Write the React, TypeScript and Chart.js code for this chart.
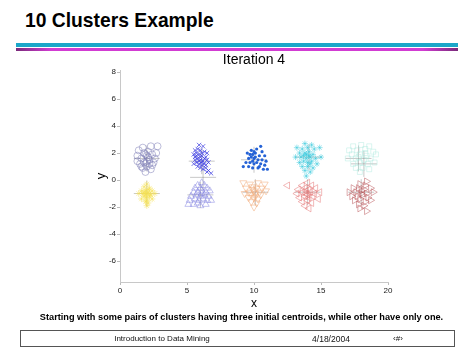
import React, { useEffect, useRef } from "react";
import { Chart, registerables } from "chart.js";

Chart.register(...registerables);

const FONT = '"Liberation Sans", Arial, sans-serif';

const slideTitle = "10 Clusters Example";
const chartTitle = "Iteration 4";
const caption = "Starting with some pairs of clusters having three initial centroids, while other have only one.";
const footerLeft = "Introduction to Data Mining";
const footerDate = "4/18/2004";
const footerPage = "\u2039#\u203A";

const xTicks = [0, 5, 10, 15, 20];
const yTicks = [-6, -4, -2, 0, 2, 4, 6, 8];

const cluster1 = [[1.4,2.2],[1.7,2.4],[2.3,2.5],[2.8,2.5],[1.3,1.8],[1.6,1.6],[1.9,1.9],[2.1,1.7],[2.4,1.9],[2.6,1.6],[1.5,1.2],[1.8,1.3],[2.0,1.4],[2.2,1.2],[2.5,1.3],[1.7,0.9],[2.0,1.0],[2.3,0.8],[1.9,0.6],[2.1,2.1],[1.8,2.0],[2.2,1.5],[1.6,1.0],[2.4,1.1],[2.0,1.8],[1.3,1.4],[2.7,2.0],[1.9,1.2]];
const cluster2 = [[5.9,2.6],[6.2,2.5],[5.6,2.2],[5.8,2.3],[6.0,2.2],[6.3,2.1],[6.5,2.0],[5.5,1.9],[5.7,1.8],[5.9,1.9],[6.1,1.8],[6.4,1.7],[5.6,1.5],[5.8,1.6],[6.0,1.5],[6.2,1.4],[6.5,1.5],[5.5,1.2],[5.7,1.3],[5.9,1.2],[6.1,1.1],[6.3,1.2],[6.6,1.3],[5.8,1.0],[6.0,0.9],[6.2,0.8],[6.4,0.9],[6.6,0.7],[6.8,0.5],[6.5,0.6],[6.1,2.0],[5.7,2.0],[6.0,1.7],[6.3,1.6],[5.9,1.4],[6.1,1.3],[5.6,1.7],[6.4,1.1]];
const cluster3 = [[10.5,2.5],[9.8,2.2],[10.2,2.3],[10.6,2.1],[9.5,2.0],[9.9,1.9],[10.1,2.0],[10.4,1.8],[10.8,1.8],[9.6,1.6],[9.8,1.7],[10.0,1.6],[10.3,1.5],[10.6,1.5],[10.9,1.4],[9.4,1.3],[9.7,1.3],[10.0,1.2],[10.2,1.3],[10.5,1.2],[10.8,1.1],[9.2,1.0],[9.6,1.0],[9.9,0.9],[10.3,0.9],[10.7,0.8],[11.0,0.8],[10.1,1.7],[9.9,1.4],[10.4,1.0],[10.0,2.1],[9.7,1.9]];
const cluster4 = [[13.8,2.7],[14.3,2.6],[13.2,2.4],[13.6,2.3],[14.0,2.4],[14.5,2.3],[14.9,2.4],[13.4,2.0],[13.8,2.0],[14.1,2.1],[14.4,1.9],[13.1,1.7],[13.5,1.7],[13.9,1.6],[14.2,1.7],[14.6,1.6],[15.0,1.7],[13.4,1.3],[13.7,1.4],[14.0,1.3],[14.3,1.4],[14.7,1.2],[13.6,1.0],[14.0,1.0],[14.4,0.9],[13.8,0.7],[14.2,0.6],[13.9,0.3],[14.1,1.8],[13.9,1.9],[14.2,1.2],[13.7,1.8]];
const cluster5 = [[17.4,2.5],[18.0,2.6],[18.6,2.5],[17.1,2.2],[17.7,2.2],[18.3,2.3],[18.9,2.1],[17.3,1.9],[17.9,1.9],[18.4,1.8],[19.1,1.9],[17.0,1.6],[17.6,1.6],[18.2,1.5],[18.7,1.6],[17.4,1.2],[17.9,1.3],[18.5,1.2],[19.0,1.3],[17.6,0.9],[18.1,0.9],[18.6,0.8],[17.9,0.6],[18.3,2.0],[17.8,1.7]];
const cluster6 = [[2.0,-0.3],[1.8,-0.5],[2.2,-0.6],[1.6,-0.8],[1.9,-0.8],[2.1,-0.9],[2.4,-0.8],[1.4,-1.0],[1.7,-1.0],[2.0,-1.0],[2.3,-1.1],[2.6,-1.0],[1.8,-1.2],[2.0,-1.3],[2.2,-1.2],[1.6,-1.4],[2.4,-1.4],[1.9,-1.6],[2.1,-1.7],[2.0,-1.9],[1.9,-1.1],[2.1,-0.7],[2.0,-1.5],[1.8,-0.9],[2.2,-1.0]];
const cluster7 = [[6.1,-0.2],[5.8,-0.4],[6.3,-0.4],[5.6,-0.6],[6.0,-0.6],[6.5,-0.6],[5.5,-0.9],[5.8,-0.9],[6.1,-0.8],[6.4,-0.9],[6.7,-0.8],[5.3,-1.2],[5.7,-1.1],[6.0,-1.2],[6.3,-1.1],[6.6,-1.2],[5.2,-1.5],[5.6,-1.4],[5.9,-1.5],[6.2,-1.4],[6.5,-1.5],[6.8,-1.5],[5.1,-1.8],[5.5,-1.8],[6.0,-1.9],[6.4,-1.8],[5.8,-1.7],[6.1,-1.0]];
const cluster8 = [[9.2,-0.2],[9.7,-0.3],[10.3,-0.2],[10.8,-0.3],[9.4,-0.6],[9.9,-0.5],[10.2,-0.6],[10.6,-0.6],[9.6,-0.9],[10.0,-0.8],[10.4,-0.9],[10.9,-0.8],[9.3,-1.0],[9.8,-1.1],[10.1,-1.0],[10.5,-1.1],[9.6,-1.3],[10.0,-1.3],[10.3,-1.4],[9.8,-1.6],[10.2,-1.7],[10.0,-2.0],[10.1,-1.2],[9.9,-0.7]];
const cluster9 = [[14.0,-0.2],[13.6,-0.4],[14.3,-0.4],[13.3,-0.7],[13.8,-0.6],[14.1,-0.7],[14.6,-0.6],[13.2,-1.0],[13.6,-0.9],[13.9,-1.0],[14.2,-0.9],[14.5,-1.0],[14.9,-0.9],[13.4,-1.3],[13.8,-1.2],[14.1,-1.3],[14.4,-1.2],[14.8,-1.4],[13.6,-1.6],[14.0,-1.5],[14.3,-1.7],[13.8,-1.9],[14.1,-2.1],[14.0,-1.1],[13.9,-0.8],[12.5,-0.4]];
const cluster10 = [[18.4,-0.1],[17.9,-0.3],[18.3,-0.4],[17.4,-0.6],[17.8,-0.6],[18.2,-0.7],[18.7,-0.6],[17.1,-0.9],[17.6,-0.9],[18.0,-0.8],[18.4,-1.0],[18.9,-0.9],[17.3,-1.2],[17.7,-1.2],[18.1,-1.1],[18.5,-1.3],[17.5,-1.5],[17.9,-1.4],[18.3,-1.6],[18.7,-1.5],[17.8,-1.8],[18.2,-1.9],[18.4,-2.3],[18.0,-1.0],[17.9,-2.1]];
const centroids = [[2.0,1.6],[6.1,1.4],[6.2,0.2],[10.0,1.5],[14.1,1.7],[17.8,1.6],[18.2,1.2],[2.0,-1.0],[6.0,-1.1],[10.1,-0.9],[14.0,-0.9],[18.0,-0.9]];

const toPts = (arr: number[][]) => arr.map(([x, y]) => ({ x, y }));

export default function App() {
  const ref = useRef<HTMLCanvasElement | null>(null);

  useEffect(() => {
    if (!ref.current) return;
    const mk = (data: number[][], style: string, color: string, radius: number, opts: any = {}) => ({
      data: toPts(data),
      pointStyle: style,
      pointRadius: radius,
      pointBorderColor: color,
      pointBackgroundColor: "rgba(0,0,0,0)",
      pointBorderWidth: 0.7,
      showLine: false,
      ...opts,
    });
    const chart = new Chart(ref.current, {
      type: "scatter",
      data: {
        datasets: [
          mk(cluster1, "circle", "rgba(120,120,180,0.7)", 3.5),
          mk(cluster2, "crossRot", "rgba(60,60,225,0.8)", 3, { pointBorderWidth: 0.9 }),
          mk(cluster3, "circle", "#2462d6", 1.6, { pointBackgroundColor: "#2462d6", pointBorderWidth: 0 }),
          mk(cluster4, "star", "rgba(50,200,220,0.7)", 3),
          mk(cluster5, "rect", "rgba(165,232,220,0.7)", 3.5, { pointBorderWidth: 0.6 }),
          mk(cluster6, "star", "rgba(245,225,80,0.7)", 3.2),
          mk(cluster7, "triangle", "rgba(130,130,225,0.7)", 4),
          mk(cluster8, "triangle", "rgba(242,170,120,0.75)", 4, { pointRotation: 180 }),
          mk(cluster9, "triangle", "rgba(228,115,115,0.7)", 4, { pointRotation: -90 }),
          mk(cluster10, "triangle", "rgba(185,85,90,0.7)", 4, { pointRotation: 90 }),
          mk(centroids, "cross", "rgba(70,70,70,0.5)", 13, { pointBorderWidth: 0.6 }),
        ] as any,
      },
      options: {
        responsive: false,
        animation: false,
        events: [],
        layout: { padding: { left: 80, right: 86, top: 0, bottom: 43 } },
        plugins: {
          legend: { display: false },
          tooltip: { enabled: false },
          title: {
            display: true,
            fullSize: false,
            text: chartTitle,
            color: "#000",
            font: { family: FONT, size: 14, weight: "normal" },
            padding: { top: 52, bottom: 1.2 },
          },
        },
        scales: {
          x: {
            type: "linear",
            min: 0,
            max: 20,
            afterBuildTicks: (s: any) => { s.ticks = xTicks.map((v) => ({ value: v })); },
            afterFit: (s: any) => { s.height = 30; },
            grid: { display: true, drawOnChartArea: false, drawTicks: true, tickLength: 3, color: "#bbbbbb" },
            border: { display: true, color: "#c8c8c8" },
            ticks: { color: "#222", font: { family: FONT, size: 8 }, padding: 1, maxRotation: 0 },
            title: { display: true, text: "x", color: "#000", font: { family: FONT, size: 12 }, padding: { top: 0, bottom: 1.6 } },
          },
          y: {
            type: "linear",
            min: -7.55,
            max: 8.15,
            afterBuildTicks: (s: any) => { s.ticks = yTicks.map((v) => ({ value: v })); },
            afterFit: (s: any) => { s.width = 40; },
            grid: { display: true, drawOnChartArea: false, drawTicks: true, tickLength: 3, color: "#bbbbbb" },
            border: { display: true, color: "#c8c8c8" },
            ticks: { color: "#222", font: { family: FONT, size: 8 }, padding: 1 },
            title: { display: true, text: "y", color: "#000", font: { family: FONT, size: 13 }, padding: { top: 14, bottom: 0 } },
          },
        },
      } as any,
    });
    return () => chart.destroy();
  }, []);

  return (
    <div style={{ position: "absolute", left: 0, top: 0, width: 474, height: 355, background: "#fff", overflow: "hidden", fontFamily: FONT }}>
      <div style={{ position: "absolute", left: 25, top: 11, fontSize: 19.3, lineHeight: "20px", fontWeight: "bold", color: "#000", whiteSpace: "nowrap" }}>{slideTitle}</div>
      <div style={{ position: "absolute", left: 16, top: 43, width: 442, height: 4, background: "#1ba7c9" }} />
      <div style={{ position: "absolute", left: 16, top: 48, width: 442, height: 3, background: "linear-gradient(to right, #7a2a7a, #d23cd2 8%, #d23cd2 92%, #7a2a7a)" }} />
      <canvas ref={ref} width={474} height={355} style={{ position: "absolute", left: 0, top: 0, width: 474, height: 355 }} />
      <div style={{ position: "absolute", left: 0, width: 483, top: 311, textAlign: "center", fontSize: 9.2, lineHeight: "12px", fontWeight: "bold", color: "#000", whiteSpace: "nowrap" }}>{caption}</div>
      <div style={{ position: "absolute", left: 20, top: 330, width: 433, height: 15, border: "1px solid #555" }} />
      <div style={{ position: "absolute", left: 62, width: 200, top: 333, textAlign: "center", fontSize: 8, lineHeight: "12px", color: "#111", whiteSpace: "nowrap" }}>{footerLeft}</div>
      <div style={{ position: "absolute", left: 291, width: 80, top: 333, textAlign: "center", fontSize: 8.5, lineHeight: "12px", color: "#111", whiteSpace: "nowrap" }}>{footerDate}</div>
      <div style={{ position: "absolute", left: 388, width: 20, top: 333, textAlign: "center", fontSize: 8, lineHeight: "12px", color: "#111", whiteSpace: "nowrap" }}>{footerPage}</div>
    </div>
  );
}
